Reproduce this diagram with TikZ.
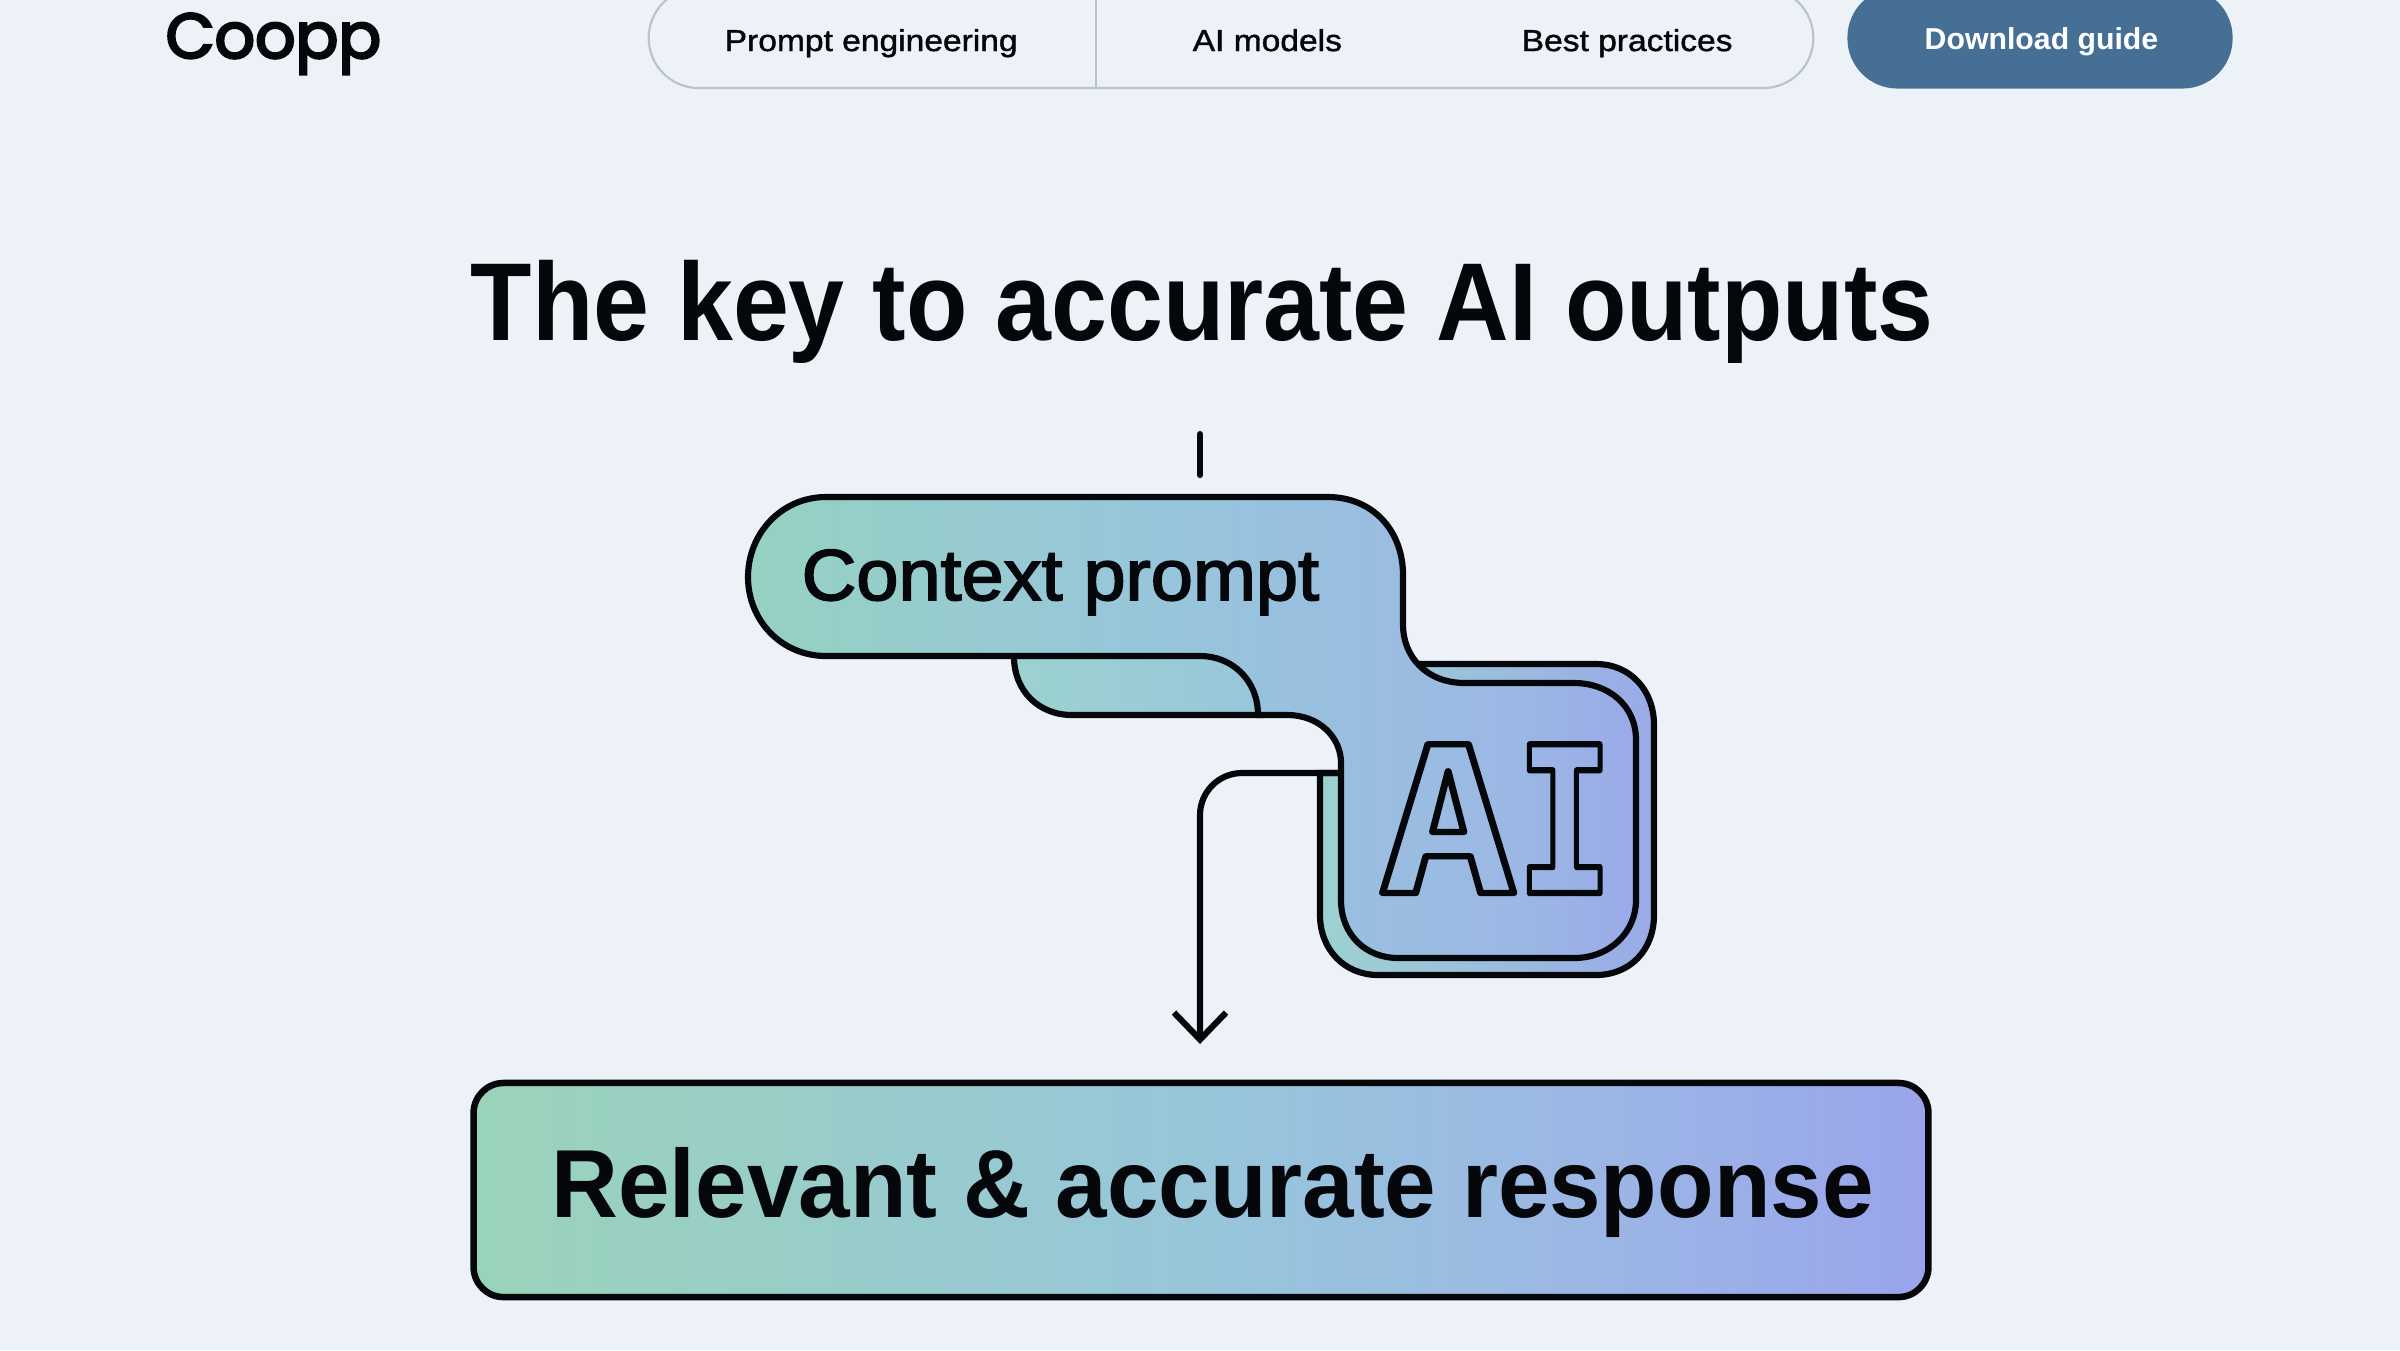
\documentclass[tikz,border=0pt]{standalone}
\usepackage{fontspec}
\usetikzlibrary{arrows.meta}
\setmainfont{Liberation Sans}
\newfontfamily\navfont[FakeStretch=1.11]{Liberation Sans}
\newfontfamily\contextfont[FakeStretch=1.05]{Liberation Sans}
\newfontfamily\titlefont[FakeStretch=0.907]{Liberation Sans}
\newfontfamily\responsefont[FakeStretch=0.957]{Liberation Sans}
\newfontfamily\logofont{Poppins}
\newfontfamily\slabfont{DejaVu Sans Mono}

\definecolor{pagebg}{HTML}{EDF2F9}
\definecolor{ink}{HTML}{05070A}
\definecolor{navline}{HTML}{BCC2CB}
\definecolor{btnblue}{HTML}{466F96}
\definecolor{tealA}{HTML}{9AD3BA}
\definecolor{tealB}{HTML}{9CD2D0}
\definecolor{tealC}{HTML}{96D1C2}
\definecolor{blueA}{HTML}{97C6DA}
\definecolor{blueB}{HTML}{9BB8E4}
\definecolor{violA}{HTML}{9AA4EC}
\definecolor{violB}{HTML}{9AAAE8}

\pgfdeclarehorizontalshading{tealviolet}{100bp}{color(0bp)=(tealA); color(25bp)=(tealA); color(50bp)=(blueA); color(62.5bp)=(blueB); color(75bp)=(violA); color(100bp)=(violA)}
\pgfdeclarehorizontalshading{promptshade}{100bp}{color(0bp)=(tealC); color(25bp)=(tealC); color(47bp)=(blueA); color(68bp)=(blueB); color(75bp)=(violB); color(100bp)=(violB)}

\tikzset{
    flowline/.style={draw=ink, line width=1.75pt},
    navtext/.style={anchor=base west, inner sep=0pt, font=\navfont\fontsize{8.6}{10}\selectfont, text=ink},
    bigtext/.style={anchor=base west, inner sep=0pt, text=ink},
    outlined/.style={bigtext, font=\slabfont\bfseries\fontsize{58}{60}\selectfont, transform shape},
}
\newcommand{\outlinetext}[1]{\special{pdf:code 1 Tr 1.75 w 1 j}#1\special{pdf:code 0 Tr}}
\newcommand{\heavier}[2]{\special{pdf:code 2 Tr #1 w}#2\special{pdf:code 0 Tr}}

\begin{document}
\begin{tikzpicture}[x=0.01cm, y=-0.01cm]
    \useasboundingbox (0,0) rectangle (2400,1350);
    \clip (0,0) rectangle (2400,1350);
    \fill[pagebg] (0,0) rectangle (2400,1350);

    % top bar
    \node[bigtext, font=\logofont\fontsize{18}{22}\selectfont] (logo) at (165,58) {\heavier{0.7}{Coopp}};
    \node[draw=navline, line width=0.6pt, rounded corners=0.5cm, minimum width=11.64cm, minimum height=1cm] (navpill) at (1231,38) {};
    \draw[navline, line width=0.6pt] (1096,88) -- (1096,0);
    \node[navtext] (nav1) at (724,51) {\heavier{0.12}{Prompt engineering}};
    \node[navtext] (nav2) at (1192,51) {\heavier{0.12}{AI models}};
    \node[navtext] (nav3) at (1521,51) {\heavier{0.12}{Best practices}};
    \node[fill=btnblue, rounded corners=0.5cm, minimum width=3.85cm, minimum height=1.01cm] (btn) at (2040,38) {};
    \node[navtext, font=\bfseries\fontsize{8.6}{10}\selectfont, text=white] (btntext) at (1924,49) {Download guide};

    % title
    \node[bigtext, font=\titlefont\bfseries\fontsize{31.5}{36}\selectfont] (title) at (470,340) {The key to accurate AI outputs};

    % AI box behind the prompt
    \path[flowline, left color=tealB, middle color=blueA, right color=violB]
        (1320,773) -- (1320,915) .. controls (1320,950) and (1345,975) .. (1378,975)
        -- (1596,975) .. controls (1630,975) and (1654,950) .. (1654,915)
        -- (1654,725) .. controls (1654,690) and (1630,664) .. (1596,664)
        -- (1420,664) -- (1420,773) -- cycle;

    % small tab under the prompt
    \path[flowline, left color=tealB, right color=blueA]
        (1014,650) -- (1014,657) .. controls (1014,690) and (1038,715) .. (1072,715)
        -- (1260,715) -- (1260,650) -- cycle;

    % main prompt shape
    \path[flowline, shading=promptshade, shade]
        (826,497) -- (1328,497) .. controls (1372,497) and (1403,530) .. (1403,575)
        -- (1403,625) .. controls (1403,655) and (1425,683) .. (1465,683)
        -- (1574,683) .. controls (1608,683) and (1636,705) .. (1636,740)
        -- (1636,900) .. controls (1636,932) and (1610,958) .. (1574,958)
        -- (1398,958) .. controls (1366,958) and (1341,935) .. (1341,900)
        -- (1341,763) .. controls (1341,738) and (1320,715) .. (1287,715)
        -- (1258,715) .. controls (1258,680) and (1232,656) .. (1200,656)
        -- (826,656) .. controls (782,656) and (748,621) .. (748,577)
        .. controls (748,533) and (782,497) .. (826,497) -- cycle;
    \node[bigtext, font=\contextfont\fontsize{20.5}{24}\selectfont] (context) at (801,600) {\heavier{0.5}{Context prompt}};

    % outlined letters
    \node[outlined, xscale=1.13] (letterA) at (1378,893) {\outlinetext{A}};
    \node[outlined, xscale=0.8] (letterI) at (1515,893) {\outlinetext{I}};

    % flow line
    \coordinate (inTop) at (1200,434);
    \coordinate (inEnd) at (1200,475);
    \coordinate (outStart) at (1338,773);
    \coordinate (outEnd) at (1200,1044);
    \draw[flowline, line cap=round] (inTop) -- (inEnd);
    \draw[flowline, rounded corners=0.42cm, -{Straight Barb[length=0.27cm, width=0.52cm, line width=1.75pt]}] (outStart) -| (outEnd);

    % response box
    \node[flowline, line width=1.85pt, shading=tealviolet, shade, rounded corners=0.3cm, minimum width=14.54cm, minimum height=2.14cm] (response) at (1201,1190) {};
    \node[bigtext, font=\responsefont\bfseries\fontsize{27.5}{32}\selectfont] (responsetext) at (551,1217) {Relevant \& accurate response};
\end{tikzpicture}
\end{document}
